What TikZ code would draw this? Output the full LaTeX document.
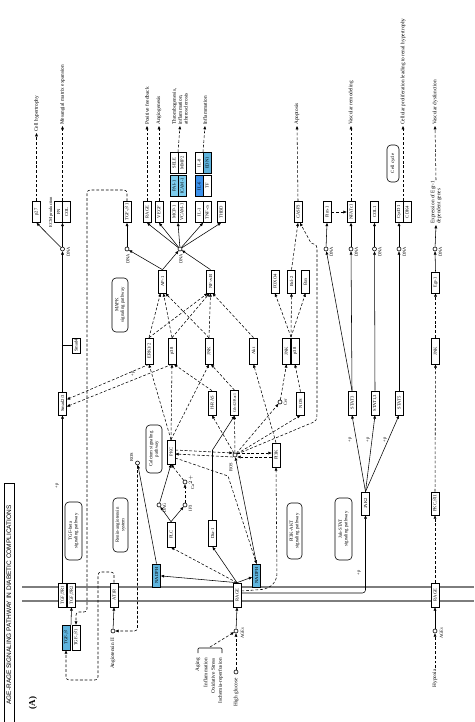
\documentclass[tikz,border=0pt]{standalone}
\usepackage{fontspec}
\setmainfont{Liberation Serif}
\setsansfont{Liberation Sans}
\usetikzlibrary{arrows.meta,calc}
\definecolor{kbl}{RGB}{125,205,238}
\definecolor{kbm}{RGB}{60,145,235}
\definecolor{kbt}{RGB}{95,180,222}
\definecolor{mem}{RGB}{125,125,125}
\tikzset{
  gn/.style={draw, fill=white, rotate=90, minimum width=21pt, minimum height=8pt, inner sep=0pt, font=\fontsize{4.6}{5}\selectfont, line width=0.65pt},
  dn/.style={circle, draw, fill=white, inner sep=0pt, minimum size=4pt, line width=0.6pt},
  lb/.style={rotate=90, inner sep=0.6pt, font=\fontsize{4.5}{5}\selectfont},
  ol/.style={rotate=90, inner sep=1pt, font=\fontsize{5.3}{5.9}\selectfont, align=left},
  pw/.style={draw, fill=white, rounded corners=4pt, rotate=90, align=center, inner sep=0pt, font=\fontsize{4.8}{5.4}\selectfont, line width=0.6pt},
  ar/.style={-{Triangle[length=3.3pt,width=2.7pt]}, line width=0.55pt},
  da/.style={ar, dash pattern=on 2.8pt off 1.9pt},
  pl/.style={line width=0.55pt},
}
\begin{document}
\begin{tikzpicture}[x=1pt,y=-1pt]
\useasboundingbox (0,0) rectangle (474,722);
\fill[white] (0,0) rectangle (474,722);
% membrane
\draw[mem, line width=1.7pt] (22,587) -- (474,587);
\draw[mem, line width=1.7pt] (22,601) -- (474,601);
% title
\node[draw, line width=1pt, rotate=90, minimum width=244pt, minimum height=10pt, inner sep=0pt, font=\sffamily\fontsize{6.5}{7}\selectfont] (title) at (9,605) {AGE-RAGE SIGNALING PATHWAY IN DIABETIC COMPLICATIONS};
\node[rotate=90, font=\bfseries\fontsize{9}{10}\selectfont] (alab) at (33,703) {(A)};

% ---------- gene products (top row) ----------
\node[gn] (p27) at (36.5,212) {p27};
\node[gn] (fn) at (58.5,212) {FN};
\node[gn] (col) at (66.5,212) {COL};
\node[lb] (ecm) at (51,212) {ECM production};
\node[gn] (tgfbg) at (127,212) {TGF-$\beta$1};
\node[gn] (rageg) at (147,212) {RAGE};
\node[gn] (vegf) at (159,212) {VEGF};
\node[gn] (mcp1) at (174,212) {MCP-1};
\node[gn] (vcam1) at (182,212) {VCAM-1};
\node[gn, fill=kbl] (pai1) at (174,186) {PAI-1};
\node[gn, fill=kbl] (icam1) at (182,186) {ICAM-1};
\node[gn] (sele) at (174,163) {SELE};
\node[gn] (mmp2) at (182,163) {MMP2};
\node[gn] (il1) at (199,212) {IL-1};
\node[gn] (tnfa) at (207,212) {TNF-$\alpha$};
\node[gn, fill=kbm] (il6) at (199,186) {IL-6};
\node[gn] (tf) at (207,186) {TF};
\node[gn] (il8) at (199,163) {IL-8};
\node[gn, fill=kbt] (edn1) at (207,163) {EDN1};
\node[gn] (thbd) at (221,212) {THBD};
\node[gn] (casp3) at (298,212) {CASP3};
\node[gn] (pim1) at (327,212) {Pim-1};
\node[gn] (nfatc1) at (351,212) {NFATc1};
\node[gn] (col1) at (374.5,212) {COL1};
\node[gn] (cycd1) at (399,212) {CycD1};
\node[gn] (cdk4) at (407,212) {CDK4};
\node[pw, minimum width=37pt, minimum height=12pt] (ccyc) at (393,163.5) {Cell cycle};

% ---------- outputs ----------
\node[ol, anchor=west] (o1) at (36.5,133) {Cell hypertrophy};
\node[ol, anchor=west] (o2) at (62.5,126) {Mesangial matrix expansion};
\node[ol, anchor=west] (o3) at (147,126) {Positive feedback};
\node[ol, anchor=west] (o4) at (159,126) {Angiogenesis};
\node[ol, anchor=west] (o5) at (180,126) {Thrombogenesis,\\inflammation,\\atherosclerosis};
\node[ol, anchor=west] (o6) at (205,126) {Inflammation};
\node[ol, anchor=west] (o7) at (297,126) {Apoptosis};
\node[ol, anchor=west] (o8) at (351,126) {Vascular remodeling};
\node[ol, anchor=west] (o9) at (403,126) {Cellular proliferation leading to renal hypertrophy};
\node[ol, anchor=west] (o10) at (435,126) {Vascular dysfunction};
\node[ol, anchor=west] (expr) at (436,225) {Expression of Egr-1\\dependent genes};

% ---------- DNA ----------
\node[dn] (dnaL) at (62.5,249) {};
\node[dn] (dnaT) at (127,249) {};
\node[dn] (dnaC) at (180,249) {};
\node[dn] (dnaP) at (326,249) {};
\node[dn] (dnaN) at (351,249) {};
\node[dn] (dnaO) at (374.5,249) {};
\node[dn] (dnaY) at (399,249) {};
\node[dn] (dnaE) at (435,249) {};
\node[lb, anchor=north] at (66,252) {DNA};
\node[lb, anchor=east] at (128,253) {DNA};
\node[lb, anchor=east] at (181,253) {DNA};
\node[lb, anchor=north] at (329,252) {DNA};
\node[lb, anchor=north] at (354,252) {DNA};
\node[lb, anchor=north] at (377.5,252) {DNA};
\node[lb, anchor=north] at (402,252) {DNA};
\node[lb, anchor=north] at (438,252) {DNA};

% ---------- TF row ----------
\node[gn, minimum width=23pt] (ap1) at (162.5,281.5) {AP-1};
\node[gn, minimum width=23pt] (nfkb) at (210.5,281.5) {NF-$\kappa$B};
\node[gn, minimum width=23pt] (foxo4) at (275,281.5) {FOXO4};
\node[gn, minimum width=23pt] (bcl2) at (291.5,281.5) {Bcl-2};
\node[gn, minimum width=23pt] (bax) at (305.5,281.5) {Bax};
\node[gn, minimum width=21pt] (egr1) at (435.5,282.5) {Egr-1};
\node[pw, minimum width=54pt, minimum height=16pt] (mapk) at (120,305) {MAPK\\signaling pathway};

% ---------- MAPK row ----------
\node[gn, minimum width=26pt] (erk) at (149,351) {ERK1/2};
\node[gn, minimum width=26pt] (p38a) at (172,351) {p38};
\node[gn, minimum width=26pt] (jnka) at (209,351) {JNK};
\node[gn, minimum width=26pt] (akt) at (253.5,351) {Akt};
\node[gn, minimum width=26pt] (jnkb) at (286.5,351) {JNK};
\node[gn, minimum width=26pt] (p38b) at (295,351) {p38};
\node[gn, minimum width=26pt] (jnkc) at (435.5,351) {JNK};
\node[gn, minimum width=15pt] (smad4) at (76,345.5) {Smad4};

% ---------- row 3 ----------
\node[gn, minimum width=23pt] (smad23) at (62.5,403.5) {Smad2/3};
\node[gn, minimum width=24pt] (hras) at (212,403) {H-RAS};
\node[gn, minimum width=25pt, font=\fontsize{3.9}{4}\selectfont] (cdc42) at (234.5,403) {Cdc42/Rac1};
\node[dn] (cer) at (280,402) {};
\node[lb, anchor=north] at (283,402) {Cer};
\node[gn, minimum width=23pt] (nos) at (300.5,403.5) {NOS};
\node[gn, minimum width=24pt] (stat3) at (352,403) {STAT3};
\node[gn, minimum width=24pt] (stat13) at (375,403) {STAT1,3};
\node[gn, minimum width=24pt] (stat5) at (399,403) {STAT5};

% ---------- row 4 ----------
\node[pw, minimum width=48pt, minimum height=16pt] (calc) at (154,449) {Calcium signaling\\pathway};
\node[gn, minimum width=24pt] (pkc) at (171,452) {PKC};
\node[dn] (ros) at (235,455) {};
\node[lb, anchor=east] at (231,462) {ROS};
\node[dn] (rosL) at (137.5,463) {};
\node[lb, anchor=south] at (134,457) {ROS};
\node[gn, minimum width=24pt] (pi3k) at (276,455) {PI3K};
\node[dn] (ca) at (185,482) {};
\node[lb, anchor=north] at (188,482) {Ca$^{2+}$};
\node[dn] (dag) at (159,505) {};
\node[lb, anchor=north] at (162,508) {DAG};
\node[dn] (ip3) at (185,505) {};
\node[lb, anchor=north] at (188,508) {IP3};
\node[gn, minimum width=23pt] (jak2) at (365.5,503.5) {JAK2};
\node[gn, minimum width=23pt] (pkcb2) at (435,503.5) {PKC$\beta$II};
\node[gn, minimum width=25pt] (plc) at (171,534.5) {PLC};
\node[gn, minimum width=26pt] (dia1) at (212.5,533.5) {Dia-1};
\node[pw, minimum width=58pt, minimum height=17pt] (tgfpw) at (73.5,531) {TGF-beta\\signaling pathway};
\node[pw, minimum width=54pt, minimum height=15pt] (renin) at (120.5,525) {Renin-angiotensin\\system};
\node[pw, minimum width=56pt, minimum height=15pt] (pipw) at (294.5,531) {PI3K-AKT\\signaling pathway};
\node[pw, minimum width=62pt, minimum height=17pt] (jspw) at (343.5,529) {Jak-STAT\\signaling pathway};

% ---------- membrane ----------
\node[gn, fill=kbt, minimum width=23pt] (nadph1) at (156.5,575.5) {NADPH};
\node[gn, fill=kbt, minimum width=23pt] (nadph2) at (256.5,575.5) {NADPH};
\node[gn, minimum width=24pt] (tgfbr1) at (62.5,595) {TGF$\beta$R1};
\node[gn, minimum width=24pt] (tgfbr2) at (71.5,595) {TGF$\beta$R2};
\node[gn, minimum width=24pt] (at1r) at (114,595) {AT1R};
\node[gn, minimum width=24pt] (rage1) at (237,595) {RAGE};
\node[gn, minimum width=24pt] (rage2) at (435,595) {RAGE};

% ---------- extracellular ----------
\node[gn, fill=kbt, minimum width=25pt] (tgfb) at (66,637.5) {TGF-$\beta$};
\node[gn, minimum width=25pt] (tgfb1) at (76,637.5) {TGF-$\beta$1};
\node[dn] (angII) at (113,631) {};
\node[ol, anchor=east] at (113,637) {Angiotensin II};
\node[dn] (ages1) at (236,631) {};
\node[lb, anchor=north] at (240,633) {AGEs};
\node[dn] (ages2) at (435,631) {};
\node[lb, anchor=north] at (439,633) {AGEs};
\node[dn] (hg) at (236,672) {};
\node[ol, anchor=east] at (236,677) {High glucose};
\node[ol, anchor=east] (hyp) at (435,668) {Hypoxia};
\node[ol, anchor=east] at (198,657) {Aging};
\node[ol, anchor=east] at (205.5,657) {Inflammation};
\node[ol, anchor=east] at (213,657) {Oxidative Stress};
\node[ol, anchor=east] at (220.5,657) {Ischemia-reperfusion};
\draw[pl, rounded corners=1pt] (198,653) -- (198,648) -- (222,648) -- (222,653);
\coordinate (brc) at (210,647);

% +p labels
\node[lb] at (57,486) {+p};
\node[lb] at (133,374) {+p};
\node[lb] at (350,440) {+p};
\node[lb] at (368,440) {+p};
\node[lb] at (385,440) {+p};
\node[lb] at (359,573) {+p};

% ================= connectors =================
% extracellular
\draw[ar] (angII) -- (at1r.west);
\draw[ar] (ages1) -- (rage1.west);
\draw[ar] (ages2) -- (rage2.west);
\draw[da] (hg) -- (ages1);
\draw[da] (brc) -- (ages1);
\draw[da] (hyp.east) -- (ages2);
\draw[ar] ($(tgfb.east)!0.5!(tgfb1.east)$) -- (tgfbr2.west);
% loops
\draw[da, rounded corners=3pt] (tgfbg.east) |- (87,190) -- (87,612) -| (tgfb1.east);
\draw[da, rounded corners=3pt] (at1r.east) |- (98,572) -- (98,680) -| (tgfb.west);
\draw[da, rounded corners=3pt] (rosL) -- (137.5,631) -- (angII);
% TGF-beta / Smad
\draw[ar] (tgfbr1.east) -- (smad23.west);
\draw[pl] (smad4.north) -- (smad4.north -| smad23);
\draw[ar] (smad23.east) -- (dnaL);
\draw[ar] (dnaL) -- (p27.west);
\draw[ar] (dnaL) -- ($(fn.west)!0.5!(col.west)$);
\draw[da] (p27.east) -- (o1.west);
\draw[da] ($(fn.east)!0.5!(col.east)$) -- (o2.west);
\draw[da] (erk.west) -- ($(smad23.south)+(0,-4)$);
\draw[da] (p38a.west) -- ($(smad23.south)+(0,3)$);
% TGF-b1 gene, nuclear genes
\draw[ar] (dnaT) -- (tgfbg.west);
\draw[ar] (ap1.east) -- (dnaT);
\draw[ar] (ap1.east) -- (dnaC);
\draw[ar] (nfkb.east) -- (dnaC);
\draw[ar] (dnaC) -- (rageg.west);
\draw[ar] (dnaC) -- (vegf.west);
\draw[ar] (dnaC) -- ($(mcp1.west)!0.5!(vcam1.west)$);
\draw[ar] (dnaC) -- ($(il1.west)!0.5!(tnfa.west)$);
\draw[ar] (dnaC) -- (thbd.west);
\draw[da] (rageg.east) -- (o3.west);
\draw[da] (vegf.east) -- (o4.west);
\draw[da] ($(sele.east)!0.5!(mmp2.east)$) -- (o5.west);
\draw[da] ($(il8.east)!0.5!(edn1.east)$) -- (o6.west);
% MAPK -> TFs
\draw[da] (erk.east) -- ($(ap1.west)+(-2,0)$);
\draw[da] (p38a.east) -- ($(ap1.west)+(1,0)$);
\draw[da] (jnka.east) -- ($(ap1.west)+(3,0)$);
\draw[da] (erk.east) -- ($(nfkb.west)+(-3,0)$);
\draw[da] (p38a.east) -- ($(nfkb.west)+(-1,0)$);
\draw[da] (jnka.east) -- (nfkb.west);
\draw[da] (akt.east) -- ($(nfkb.west)+(2,0)$);
% upstream of MAPK
\draw[da] (pkc.east) -- (erk.west);
\draw[da] (pkc.east) -- (p38a.west);
\draw[da] (pkc.east) -- (jnka.west);
\draw[da] (hras.east) -- ($(p38a.west)+(2,0)$);
\draw[da] (cdc42.east) -- ($(jnka.west)+(2,0)$);
\draw[da] (ros) -- (hras.west);
\draw[da] (ros) -- (cdc42.west);
\draw[da] ($(pkc.south)+(0,-2)$) -- ($(ros.west)+(0,-2)$);
\draw[da] ($(ros.west)+(0,2)$) -- ($(pkc.south)+(0,2)$);
\draw[da] ($(ros.east)+(0,-2)$) -- ($(pi3k.north)+(0,-2)$);
\draw[da] ($(pi3k.north)+(0,2)$) -- ($(ros.east)+(0,2)$);
\draw[da] (pi3k.east) -- (akt.west);
\draw[da] (ros) -- (cer);
\draw[da] (ros) -- (nos.west);
\draw[da] (cer) -- (jnkb.west);
\draw[da] (nos.east) -- (p38b.west);
\draw[da] ($(pkc.south)+(0,6)$) -- (228,476) -- (nadph2.east);
% apoptosis
\coordinate (jp) at (291,337);
\draw[da] (jp) -- (foxo4.west);
\draw[da] (jp) -- (bcl2.west);
\draw[da] (jp) -- (bax.west);
\draw[da] (bcl2.east) -- (casp3.west);
\draw[da] (casp3.east) -- (o7.west);
\draw[da] (ros) -- (309,424) .. controls (317,421) .. (317,410) -- (317,252) .. controls (317,245) .. (311,243) -- ($(casp3.west)+(2,0)$);
% PLC / PKC
\draw[ar] (plc.east) -- (dag);
\draw[ar] (plc.east) -- (ip3);
\draw[da] (ip3) -- (ca);
\draw[ar] (dag) -- (pkc.west);
\draw[da] (ca) -- (pkc.west);
\draw[ar] (dia1.east) -- (212.5,450) -- (cdc42.west);
% RAGE downstream
\draw[ar] (rage1.east) -- (nadph1);
\draw[ar] (rage1.east) -- (nadph2);
\draw[da] (rage1.east) -- (plc.west);
\draw[ar] (rage1.east) -- (dia1.west);
\draw[ar] (nadph1.east) -- (rosL);
\draw[ar] (nadph2.east) -- (ros);
\draw[da, rounded corners=6pt] ($(rage1.south)+(0,-4)$) -- (268,589) -- (277,580) -- (pi3k.west);
\draw[ar, rounded corners=3pt] ($(rage1.south)+(0,-2)$) -| (jak2.west);
% JAK-STAT
\draw[ar] (jak2.east) -- (stat3.west);
\draw[ar] (jak2.east) -- (stat13.west);
\draw[ar] (jak2.east) -- (stat5.west);
\draw[ar] (stat3.east) -- (dnaP);
\draw[ar] (stat3.east) -- (dnaN);
\draw[ar] (stat13.east) -- (dnaO);
\draw[ar] (stat5.east) -- (dnaY);
\draw[ar] (dnaP) -- (pim1.west);
\draw[ar] (dnaN) -- (nfatc1.west);
\draw[ar] (dnaO) -- (col1.west);
\draw[ar] (dnaY) -- (cycd1.west);
\draw[da] (pim1.south) -- (nfatc1.north);
\draw[da] (nfatc1.east) -- (o8.west);
\draw[da] ($(cycd1.east)!0.5!(cdk4.east)$) -- (o9.west);
% PKCbII / Egr-1
\draw[da] (rage2.east) -- (pkcb2.west);
\draw[da] (pkcb2.east) -- (jnkc.west);
\draw[da] (jnkc.east) -- (egr1.west);
\draw[ar] (egr1.east) -- (dnaE);
\draw[ar] (dnaE) -- (expr.west);
\draw[da] (expr.east) -- (o10.west);
\end{tikzpicture}
\end{document}
